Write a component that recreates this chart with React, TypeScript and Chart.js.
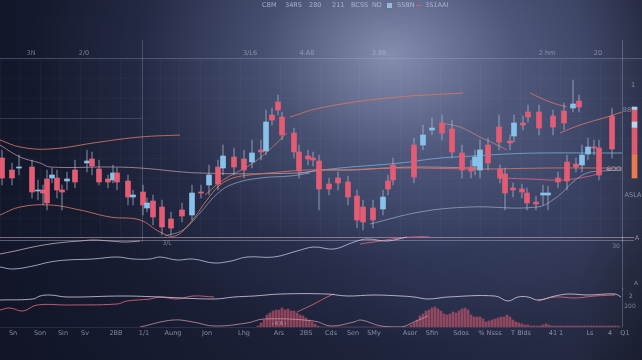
import React, { useEffect, useRef } from 'react';
import { Chart, registerables } from 'chart.js';

Chart.register(...registerables);

// ---------- time axis ----------
const X_MIN = 0;
const X_MAX = 128.4;

// ---------- candles (main panel) ----------
const candleDays = [0.4,2.4,3.8,6.4,7.6,8.6,9.4,10.4,11.4,12.4,13.4,15,17.4,18.4,19.8,21.6,22.6,23.4,25.6,26.6,28.6,29.4,30.6,32.4,34.2,36.4,38.4,40.2,41.8,43.6,44.6,46.8,48.8,50.4,52.2,53.2,54.4,55.6,56.4,58.8,59.8,61.6,62.6,63.8,65.8,67.6,69.6,71.4,72.6,74.6,76.6,77.6,78.6,82.8,84.6,86.4,88.4,90.4,92.4,94.2,95,96,97.6,99.8,100,101,102,102.6,102.8,104.4,104.6,105.4,105.6,107.2,107.8,108.6,109.6,110.6,111.6,112.8,113.4,114.6,115.2,115.8,116.4,117.6,118.8,119.8,122.4];
const candleOpen = [80,68,70,71,47,48,59,60,60,48,57,68,75,79,69,59,58,65,57,41,46,30,37,31,19,28,23,46,53,71,70,81,79,76,88,87,123,136,121,105,86,82,80,77,54,60,56,42,31,30,29,57,73,93,93,108,115,109,85,71,72,68,93,111,69,64,97,50,102,49,115,45,126,36,126,43,43,122,60,127,76,130,74,137,73,84,91,90,122];
const candleClose = [60,60,71,46,48,45,35,63,48,46,59,56,77,72,56,56,65,56,41,43,33,35,21,11,10,22,45,45,63,54,82,71,68,85,86,116,118,128,103,86,67,79,78,49,49,55,41,18,16,18,41,49,58,61,103,110,105,86,68,67,81,88,75,96,60,45,95,48,115,46,113,35,121,34,110,45,45,111,56,115,57,134,71,131,83,91,90,63,89];
const candleHigh = [88,75,83,78,58,53,68,70,68,53,66,78,88,86,78,63,73,70,63,48,53,40,43,38,26,35,53,53,73,78,93,90,88,98,98,128,130,143,126,110,93,88,86,83,60,66,62,48,38,38,48,63,80,100,113,120,123,118,93,78,88,98,100,123,73,70,103,55,123,54,122,50,133,42,133,53,52,128,66,135,83,158,80,143,93,100,98,98,130];
const candleLow = [53,53,63,40,38,33,28,55,40,28,48,50,66,63,53,50,55,48,33,33,23,26,13,3,3,16,18,40,43,48,63,63,60,70,78,83,113,123,98,80,60,73,72,28,43,48,33,10,8,10,23,43,53,55,88,103,98,80,60,60,63,60,68,88,55,28,88,41,96,40,108,28,116,28,103,33,28,103,50,108,48,126,66,126,66,78,83,58,80];

// ---------- overlay lines (main panel) ----------
const upperBandDays = [0,4,10,20,28,36,46,58,64,77.4,92.6];
const upperBandValues = [98,91,89,96,101,103,null,121,130,140,145];
const upperRightDays = [106,110,113.4,114,112,116,121.4,124.4];
const upperRightValues = [145,136,131,null,105,113,121,126];
const lowerBandDays = [0,4,10,16,22,28,32,35,38,41.4,44,46.6,50,56,61.4,68,80,96,110,120,124.4];
const lowerBandValues = [23,31,33,28,21,18,6,2,15,38,53,60,63,66,68,68,70,69,70,70,70];
const midLineDays = [0,4,8,10,22,28,40,60,64,70.6,77.4,84,95.4];
const midLineValues = [93,81,75,71,71,70,65,65,68,68,70,71,70];
const tealLineDays = [60,68,80,88,94.6,101.4,108,120,124.4];
const tealLineValues = [65,70,75,80,82,84,85,85,85];
const greyLineDays = [33,36.6,40,43.4,46.6,52,58,62,68,74,84,94,107.4,111.4,114.6,117.4,120.6,124.4];
const greyLineValues = [2,8,25,44,54,60,62,65,null,14,26,31,31,41,56,65,67,68];
const fastMaDays = [41,44.6,50,53.4,57.4,70,88,92,96,98.6,101.4];
const fastMaValues = [43,58,73,86,105,null,115,111,101,95,88];
const redLineDays = [100,106,112.6,118,120];
const redLineValues = [60,59,58,62,65];

// price marker bar (right edge)
const markerDay = 126.9;
const markerLow = [128,116,110,83,60];
const markerHigh = [131,128,116,110,83];

// ---------- panel 2 ----------
const p2UpperDays = [0,3,6.6,10,13.4,16,18.6,22,25,28];
const p2UpperValues = [36,39,43,46,48,49,50,49,48,49];
const p2MainDays = [0,2.6,6.6,10,13.4,18.6,23.4,26.6,30,32,35.4,38.6,42.8,46.2,49.4,54.8,59.4,62.8,66.8,70.8,73.4,77.4,81.4];
const p2MainValues = [23,21,24,28,30,31,33,31,31,33,30,31,27,29,33,33,39,43,41,48,51,49,53];
const p2RedDays = [72,76,80,86];
const p2RedValues = [46,49,52,54];

// ---------- panel 3 ----------
const p3WhiteDays = [0,6.6,8,10,13.4,24.6,32,42.8,46.8,50.8,56.2,65.4,69.4,74.8,80.2,82.8,85.6,89.6,99,101.6,103.6,105.6,107.6,111,113.6,117.6,123,124.2];
const p3WhiteValues = [27,28,31,32,30,31,30,28,30,31,33,33,31,32,31,30,28,30,31,26,30,30,27,31,33,32,33,30];
const p3RedDays = [0,2,4.6,7.4,13.4,23.4,25.4,30,32,35.4,38.6,42.8,50,59.4,62.8,65.4,66.8,70,107.6,111,115,119,123];
const p3RedValues = [17,19,16,22,22,23,26,28,30,28,31,30,null,15,23,30,33,null,26,30,29,31,32];
const p3LowDays = [28,34.6,38.6,42.8,49.4,52.8,62.8,66.2,70.8,72.2,76.2,80.2,82.8,85.6];
const p3LowValues = [0,7,5,1,4,8,6,1,5,7,1,0,5,11];
const histStartDay = 51.6;
const histStepDay = 0.6;
const histValues = [
  1,4,7,12,14,16,17,17,19,17,18,16,16,14,12,11,9,7,5,3,1,
  0,0,0,0,0,0,0,0,0,0,0,0,0,0,0,0,0,0,0,0,0,0,0,0,0,0,0,0,0,0,
  2,4,7,11,13,16,17,19,20,18,16,13,12,13,15,14,16,18,19,17,12,10,10,10,8,5,6,7,8,9,10,10,12,10,7,5,4,3,2,2,1,1,1,1,2,3,2,1,
  1,1,1,1,1,1,1,1,1,1,1,1,1,1,1,1,1,1,1,1,1,1
];

// ---------- texts ----------
const headerTexts = ['CBM','34RS','280','211','BCSS','ND','SSBN','3S1AAI'];
const topTickDays = [6.2,16.8,50,61.4,75.8,109.4,119.6];
const topTickLabels = ['3N','2/0','3/L6','4.A8','3.88','2 hm','20'];
const rightTickValues = [153,128,69,43,0];
const rightTickLabels = ['1','88','6OO','ASLA','A'];
const bottomTickDays = [2.6,8,12.6,17,23.2,28.8,34.6,41.4,48.8,55.8,61.2,66.2,70.6,74.8,82,86.4,92.2,98,104.2,111.2,118,122,125];
const bottomTickLabels = ['Sn','Son','Sin','Sv','2BB','1/1','Aung','Jon','Lhg','Ars','2BS','Cds','Sen','SMy','Asor','Sfin','Sdos','% Nsss','T Blds','41 1','Ls','4','Q1'];

// ---------- styles ----------
const FONT = '"DejaVu Sans", "Liberation Sans", sans-serif';
const RED = '#e35c73';
const BLUE = '#88c2e8';
const ORANGE = 'rgba(214,118,98,0.85)';
const PINKGREY = 'rgba(205,160,178,0.7)';
const TEAL = 'rgba(112,172,206,0.85)';
const GREY = 'rgba(175,188,214,0.6)';
const REDLINE = 'rgba(222,96,122,0.85)';
const WICK = 'rgba(175,186,212,0.45)';
const TEXT = 'rgba(200,206,226,0.6)';
const markerColors = ['#a9cde8','#e0596c','#b8d5ea','#e0596c','#ea7a4c'];
const crosshairDay = 28.4;
const crosshairValue = 120;
const edgeDay = 124.4;

const pts = (days: number[], vals: (number | null)[]) => days.map((d, i) => ({ x: d, y: vals[i] }));

const lineDs = (label: string, days: number[], vals: (number | null)[], color: string, order = 3) => ({
  type: 'line' as const,
  label,
  data: pts(days, vals),
  borderColor: color,
  borderWidth: 1,
  pointRadius: 0,
  tension: 0.4,
  spanGaps: false,
  fill: false,
  order,
});

const noAxisX = { type: 'linear' as const, min: X_MIN, max: X_MAX, display: false, offset: false };

function hline(ctx: CanvasRenderingContext2D, x1: number, x2: number, y: number, color: string) {
  ctx.strokeStyle = color; ctx.lineWidth = 1;
  ctx.beginPath(); ctx.moveTo(x1, Math.round(y) + 0.5); ctx.lineTo(x2, Math.round(y) + 0.5); ctx.stroke();
}
function vline(ctx: CanvasRenderingContext2D, x: number, y1: number, y2: number, color: string) {
  ctx.strokeStyle = color; ctx.lineWidth = 1;
  ctx.beginPath(); ctx.moveTo(Math.round(x) + 0.5, y1); ctx.lineTo(Math.round(x) + 0.5, y2); ctx.stroke();
}
function text(ctx: CanvasRenderingContext2D, s: string, x: number, y: number, align: CanvasTextAlign = 'center', color = TEXT, size = 6.5) {
  ctx.font = `${size}px ${FONT}`; ctx.fillStyle = color; ctx.textAlign = align; ctx.textBaseline = 'middle';
  ctx.fillText(s, x, y);
}

const headerX = [262, 285, 309, 332, 351, 372, 397, 425];
const rightLabelX = [633, 627, 614, 633, 637];

const mainDecor = {
  id: 'mainDecor',
  beforeDatasetsDraw(chart: any) {
    const { ctx, scales: { x, y } } = chart;
    ctx.save();
    hline(ctx, 0, 642, y.getPixelForValue(180), 'rgba(170,180,210,0.3)');
    vline(ctx, x.getPixelForValue(crosshairDay), 40, 242, 'rgba(180,190,215,0.25)');
    hline(ctx, 0, x.getPixelForValue(crosshairDay), y.getPixelForValue(crosshairValue), 'rgba(180,190,215,0.18)');
    vline(ctx, x.getPixelForValue(edgeDay), 40, 242, 'rgba(180,190,215,0.3)');
    ctx.restore();
  },
  afterDatasetsDraw(chart: any) {
    const { ctx, scales: { x, y } } = chart;
    ctx.save();
    hline(ctx, 0, x.getPixelForValue(edgeDay) + 12, y.getPixelForValue(1), 'rgba(214,170,186,0.55)');
    hline(ctx, 0, x.getPixelForValue(edgeDay) + 12, y.getPixelForValue(-2), 'rgba(170,176,204,0.45)');
    // header
    headerTexts.forEach((s, i) => text(ctx, s, headerX[i], 5.5, 'left', 'rgba(200,208,230,0.7)'));
    ctx.fillStyle = 'rgba(156,200,232,0.85)'; ctx.fillRect(387, 3, 5, 5);
    ctx.fillStyle = 'rgba(224,96,122,0.8)'; ctx.fillRect(416, 5, 6, 1);
    // top ticks
    topTickDays.forEach((d, i) => text(ctx, topTickLabels[i], x.getPixelForValue(d), 53, 'center', 'rgba(200,206,228,0.5)'));
    // right ticks
    rightTickValues.forEach((v, i) => text(ctx, rightTickLabels[i], rightLabelX[i], y.getPixelForValue(v), 'center', 'rgba(205,210,228,0.55)'));
    hline(ctx, 606, 611, y.getPixelForValue(69), 'rgba(214,118,98,0.7)');
    ctx.restore();
  },
};

const p2Decor = {
  id: 'p2Decor',
  afterDatasetsDraw(chart: any) {
    const { ctx, scales: { x, y } } = chart;
    ctx.save();
    vline(ctx, x.getPixelForValue(edgeDay), 0, 54, 'rgba(180,190,215,0.3)');
    text(ctx, '30', 616, y.getPixelForValue(44), 'center', 'rgba(205,210,228,0.5)', 6);
    text(ctx, 'A', 636, y.getPixelForValue(7), 'center', 'rgba(205,210,228,0.5)', 6);
    text(ctx, '3/L', x.getPixelForValue(33.4), y.getPixelForValue(47), 'center', 'rgba(205,210,228,0.5)', 6);
    ctx.restore();
  },
};

const p3Decor = {
  id: 'p3Decor',
  beforeDatasetsDraw(chart: any) {
    const { ctx, scales: { x, y } } = chart;
    ctx.save();
    vline(ctx, x.getPixelForValue(edgeDay), 0, y.getPixelForValue(0), 'rgba(180,190,215,0.3)');
    hline(ctx, 0, x.getPixelForValue(edgeDay), y.getPixelForValue(0), 'rgba(180,190,215,0.12)');
    ctx.restore();
  },
  afterDatasetsDraw(chart: any) {
    const { ctx, scales: { x, y } } = chart;
    ctx.save();
    text(ctx, '2', 631, y.getPixelForValue(31), 'center', 'rgba(205,210,228,0.6)', 6);
    text(ctx, '200', 630, y.getPixelForValue(21), 'center', 'rgba(205,210,228,0.5)', 6);
    text(ctx, '‹ 6 6 ›', x.getPixelForValue(55.8), y.getPixelForValue(3), 'center', 'rgba(225,225,235,0.6)', 5);
    ctx.restore();
  },
};

function mainConfig(): any {
  const candleColors = candleOpen.map((o, i) => (candleClose[i] >= o ? BLUE : RED));
  return {
    type: 'bar',
    data: {
      datasets: [
        {
          type: 'bar', label: 'body',
          data: candleDays.map((d, i) => ({ x: d, y: [candleOpen[i], candleClose[i]] })),
          backgroundColor: candleColors, barThickness: 5, grouped: false, order: 0,
        },
        {
          type: 'bar', label: 'wick',
          data: candleDays.map((d, i) => ({ x: d, y: [candleLow[i], candleHigh[i]] })),
          backgroundColor: WICK, barThickness: 1, grouped: false, order: 1,
        },
        {
          type: 'bar', label: 'marker',
          data: markerLow.map((l, i) => ({ x: markerDay, y: [l, markerHigh[i]] })),
          backgroundColor: markerColors, barThickness: 5, grouped: false, order: 0,
        },
        lineDs('upper', upperBandDays, upperBandValues, ORANGE),
        lineDs('upperRight', upperRightDays, upperRightValues, ORANGE),
        lineDs('lower', lowerBandDays, lowerBandValues, ORANGE),
        lineDs('mid', midLineDays, midLineValues, PINKGREY),
        lineDs('teal', tealLineDays, tealLineValues, TEAL),
        lineDs('grey', greyLineDays, greyLineValues, GREY),
        lineDs('fast', fastMaDays, fastMaValues, 'rgba(205,135,120,0.75)'),
        lineDs('red', redLineDays, redLineValues, REDLINE),
      ],
    },
    options: {
      responsive: false, animation: false, devicePixelRatio: 1,
      layout: { padding: { top: 60, bottom: 4, left: 0, right: 0 } },
      plugins: { legend: { display: false }, tooltip: { enabled: false }, title: { display: false } },
      scales: {
        x: {
          type: 'linear', min: X_MIN, max: X_MAX, offset: false,
          ticks: { display: false, stepSize: 4 },
          grid: { color: 'rgba(255,255,255,0.03)', drawTicks: false, offset: false },
          border: { display: false },
          afterFit: (s: any) => { s.height = 0; },
        },
        y: {
          min: 0, max: 178,
          ticks: { display: false, stepSize: 20 },
          grid: { color: 'rgba(255,255,255,0.025)', drawTicks: false },
          border: { display: false },
          afterFit: (s: any) => { s.width = 0; },
        },
      },
    },
    plugins: [mainDecor],
  };
}

function p2Config(): any {
  return {
    type: 'line',
    data: {
      datasets: [
        lineDs('p2upper', p2UpperDays, p2UpperValues, 'rgba(215,185,200,0.75)'),
        lineDs('p2main', p2MainDays, p2MainValues, 'rgba(200,205,232,0.75)'),
        lineDs('p2red', p2RedDays, p2RedValues, REDLINE),
      ],
    },
    options: {
      responsive: false, animation: false, devicePixelRatio: 1,
      layout: { padding: 0 },
      plugins: { legend: { display: false }, tooltip: { enabled: false } },
      scales: { x: noAxisX, y: { min: 0, max: 54, display: false } },
    },
    plugins: [p2Decor],
  };
}

function p3Config(): any {
  return {
    type: 'bar',
    data: {
      datasets: [
        lineDs('p3white', p3WhiteDays, p3WhiteValues, 'rgba(215,205,225,0.8)', 0),
        lineDs('p3red', p3RedDays, p3RedValues, 'rgba(210,95,120,0.9)', 0),
        lineDs('p3low', p3LowDays, p3LowValues, 'rgba(215,150,170,0.75)', 0),
        {
          type: 'bar', label: 'hist',
          data: histValues.map((v, i) => ({ x: histStartDay + i * histStepDay, y: v })),
          backgroundColor: 'rgba(210,88,112,0.62)', barThickness: 2, grouped: false, order: 2,
        },
      ],
    },
    options: {
      responsive: false, animation: false, devicePixelRatio: 1,
      layout: { padding: { top: 2, bottom: 0, left: 0, right: 0 } },
      plugins: { legend: { display: false }, tooltip: { enabled: false } },
      scales: {
        x: {
          type: 'linear', min: X_MIN, max: X_MAX, offset: false, position: 'bottom',
          afterBuildTicks: (s: any) => { s.ticks = bottomTickDays.map((v) => ({ value: v })); },
          afterFit: (s: any) => { s.height = 33; },
          ticks: {
            autoSkip: false, maxRotation: 0, padding: 2,
            color: 'rgba(200,206,226,0.6)', font: { size: 6.5, family: FONT },
            callback: (_v: any, i: number) => bottomTickLabels[i],
          },
          grid: { display: false, drawTicks: false },
          border: { display: false },
        },
        y: { min: 0, max: 37, display: false },
      },
    },
    plugins: [p3Decor],
  };
}

const BG = [
  'radial-gradient(ellipse 360px 290px at 390px 55px, rgba(160,168,204,0.78) 0%, rgba(112,122,164,0.5) 35%, rgba(70,80,120,0.22) 70%, rgba(30,36,60,0) 100%)',
  'radial-gradient(ellipse 260px 220px at 560px 170px, rgba(85,95,138,0.35) 0%, rgba(0,0,0,0) 100%)',
  'linear-gradient(180deg, rgba(0,0,0,0) 60%, rgba(8,10,22,0.22) 100%)',
  'linear-gradient(90deg, #13172a 0%, #1b2138 30%, #252c48 65%, #272d47 90%, #1c2030 100%)',
].join(', ');

export default function App() {
  const mainRef = useRef<HTMLCanvasElement>(null);
  const p2Ref = useRef<HTMLCanvasElement>(null);
  const p3Ref = useRef<HTMLCanvasElement>(null);

  useEffect(() => {
    document.body.style.margin = '0';
    const charts = [
      new Chart(mainRef.current as HTMLCanvasElement, mainConfig()),
      new Chart(p2Ref.current as HTMLCanvasElement, p2Config()),
      new Chart(p3Ref.current as HTMLCanvasElement, p3Config()),
    ];
    return () => charts.forEach((c) => c.destroy());
  }, []);

  return (
    <div style={{ position: 'fixed', left: 0, top: 0, width: 642, height: 360, overflow: 'hidden', background: BG }}>
      <canvas ref={mainRef} width={642} height={242} style={{ position: 'absolute', left: 0, top: 0, width: 642, height: 242 }} />
      <canvas ref={p2Ref} width={642} height={54} style={{ position: 'absolute', left: 0, top: 236, width: 642, height: 54 }} />
      <canvas ref={p3Ref} width={642} height={72} style={{ position: 'absolute', left: 0, top: 288, width: 642, height: 72 }} />
    </div>
  );
}
